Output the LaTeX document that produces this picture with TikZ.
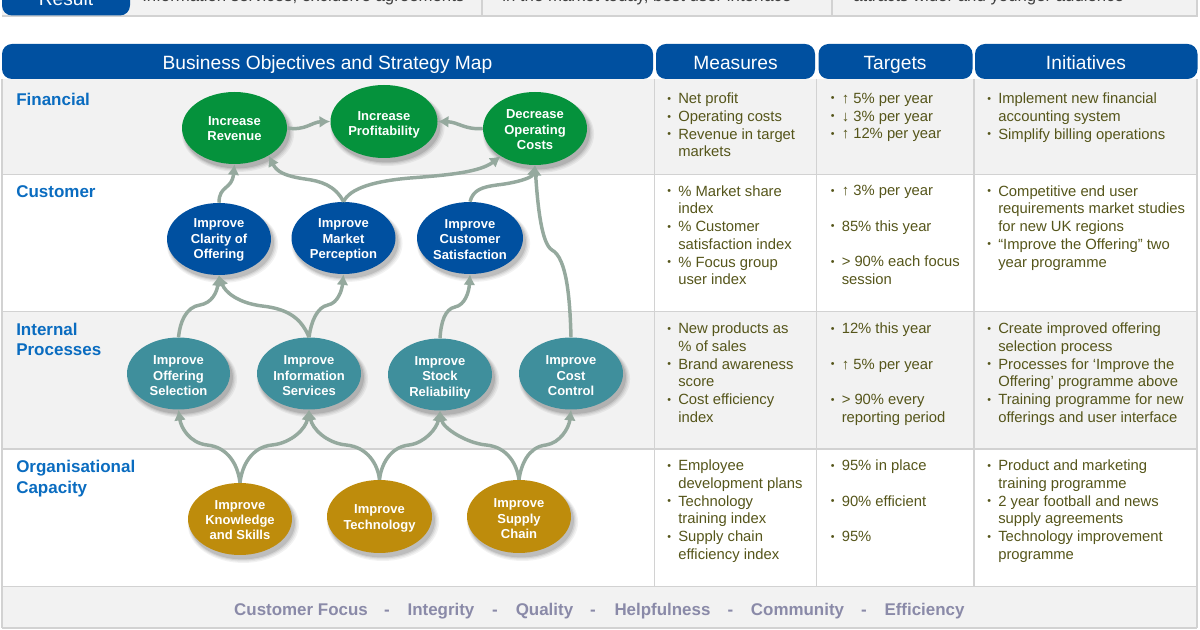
\documentclass[tikz,border=0pt]{standalone}
\usepackage{fontspec}
\setmainfont{Liberation Sans}
\usetikzlibrary{shapes.geometric,arrows.meta,shadows}
\definecolor{hdr}{HTML}{0050A0}
\definecolor{band}{HTML}{F2F2F2}
\definecolor{rule}{HTML}{D2D2D2}
\definecolor{cat}{HTML}{0A6CC0}
\definecolor{body}{HTML}{55551A}
\definecolor{wire}{HTML}{95A99E}
\definecolor{nfin}{HTML}{05923C}
\definecolor{ncus}{HTML}{0050A0}
\definecolor{npro}{HTML}{3F8F9C}
\definecolor{ncap}{HTML}{BE8C0C}
\definecolor{vals}{HTML}{8A8AA8}
\newcommand{\bu}{\makebox[8.25pt][l]{\fontsize{8pt}{8pt}\selectfont\raisebox{1.1pt}{•}}}
\newcommand{\ct}{\makebox[8.25pt]{}}
\newcommand{\up}[1]{\rule{0pt}{#1pt}}
\tikzset{
  rowband/.style={draw=rule,line width=1.1pt},
  divider/.style={draw=rule,line width=1pt},
  head/.style={fill=hdr,rounded corners=7.5pt},
  headtxt/.style={text=white,font=\fontsize{14.4pt}{17pt}\selectfont,anchor=base,inner sep=0pt},
  striptxt/.style={text=black!75,font=\fontsize{12.6pt}{15pt}\selectfont,anchor=base west,inner sep=0pt},
  cattxt/.style={text=cat,font=\fontsize{12.75pt}{15.4pt}\selectfont\bfseries,anchor=north west,align=left,inner sep=0pt},
  celltxt/.style={text=body,font=\fontsize{11.1pt}{13.28pt}\selectfont,anchor=north west,align=left,inner sep=0pt},
  valtxt/.style={text=vals,font=\fontsize{12.7pt}{15pt}\selectfont\bfseries,anchor=base,inner sep=0pt},
  softshadow/.style={
    drop shadow={shadow xshift=2.4pt,shadow yshift=-3.8pt,shadow scale=1.07,opacity=.05,fill=black},
    drop shadow={shadow xshift=2.2pt,shadow yshift=-3.5pt,shadow scale=1.05,opacity=.06,fill=black},
    drop shadow={shadow xshift=2pt,shadow yshift=-3.2pt,shadow scale=1.03,opacity=.08,fill=black},
    drop shadow={shadow xshift=1.8pt,shadow yshift=-3pt,shadow scale=1.01,opacity=.10,fill=black}},
  goal/.style={ellipse,inner sep=0pt,text=white,align=center,softshadow,
    font=\fontsize{9.75pt}{11.6pt}\selectfont\bfseries},
  radii/.style 2 args={minimum width=#1*1.5pt,minimum height=#2*1.5pt},
  link/.style={draw=wire,line width=2.6pt,-{Latex[length=8pt,width=9pt]}}
}
\begin{document}
\begin{tikzpicture}[x=0.75pt,y=-0.75pt]
\useasboundingbox (0,0) rectangle (1200,630);
\clip (0,0) rectangle (1200,630);
% top strip
\path[fill=band] (2,-20) rectangle (1197,16);
\draw[rowband] (1197,-20) -- (1197,16) -- (2,16);
\draw[divider] (482,-20) -- (482,16);
\draw[divider] (832,-20) -- (832,16);
\path[head] (2,-30) rectangle (130,15.5);
\node[headtxt] (result) at (66,6) {Result};
\node[striptxt] (s1) at (142,1.5) {Information services, exclusive agreements};
\node[striptxt] (s2) at (502,1.5) {in the market today, best user interface};
\node[striptxt] (s3) at (853,1.5) {attracts wider and younger audience};
% rows
\path[fill=band] (2,79) rectangle (1197,174.5);
\path[fill=band] (2,311.5) rectangle (1197,449);
\path[fill=band] (2,586.5) rectangle (1197,628);
\draw[rowband] (2,174.5) -- (1197,174.5);
\draw[rowband] (2,311.5) -- (1197,311.5);
\draw[rowband] (2,449) -- (1197,449);
\draw[rowband] (2,586.5) -- (1197,586.5);
\draw[rowband] (2,628) -- (1197,628);
\draw[divider] (2,79) -- (2,628);
\draw[divider] (1197,79) -- (1197,628);
\draw[divider] (654.5,79) -- (654.5,586.5);
\draw[divider] (816.5,79) -- (816.5,586.5);
\draw[divider] (974,79) -- (974,586.5);
% headers
\path[head] (2,44) rectangle (653,79);
\path[head] (656,44) rectangle (815,79);
\path[head] (818.5,44) rectangle (972.5,79);
\path[head] (975,44) rectangle (1197.5,79);
\node[headtxt] (h1) at (327.5,69.5) {Business Objectives and Strategy Map};
\node[headtxt] (h2) at (735.5,69.5) {Measures};
\node[headtxt] (h3) at (895,69.5) {Targets};
\node[headtxt] (h4) at (1086,69.5) {Initiatives};
% categories
\node[cattxt] (c1) at (16,93) {Financial};
\node[cattxt] (c2) at (16,185.5) {Customer};
\node[cattxt] (c3) at (16,322.5) {Internal\\Processes};
\node[cattxt] (c4) at (16,460) {Organisational\\Capacity};
% goals
\node[goal,radii={52.5}{36},fill=nfin] (rev) at (234.5,128) {\up{8}Increase\\Revenue};
\node[goal,radii={53.5}{36.5},fill=nfin] (prof) at (384,121.5) {\up{12}Increase\\Profitability};
\node[goal,radii={52}{36.5},fill=nfin] (dec) at (535,128.5) {\up{9}Decrease\\Operating\\Costs};
\node[goal,radii={52}{36},fill=ncus] (clar) at (219,239) {\up{8.3}Improve\\Clarity of\\Offering};
\node[goal,radii={52}{36},fill=ncus] (mkt) at (343.5,238) {\up{9.8}Improve\\Market\\Perception};
\node[goal,radii={53}{36},fill=ncus] (sat) at (470,238) {\up{9}Improve\\Customer\\Satisfaction};
\node[goal,radii={51.5}{36},fill=npro] (off) at (178.5,373.5) {\up{10.5}Improve\\Offering\\Selection};
\node[goal,radii={52}{36},fill=npro] (info) at (309,373.5) {\up{10.5}Improve\\Information\\Services};
\node[goal,radii={52}{36},fill=npro] (stock) at (440,374.5) {\up{11.3}Improve\\Stock\\Reliability};
\node[goal,radii={52}{36},fill=npro] (cost) at (571,373.5) {\up{10.5}Improve\\Cost\\Control};
\node[goal,radii={52}{36},fill=ncap] (know) at (240,519) {\up{8.3}Improve\\Knowledge\\and Skills};
\node[goal,radii={52.5}{36.5},fill=ncap] (tech) at (379.5,516.5) {\up{9.8}Improve\\Technology};
\node[goal,radii={52}{36.5},fill=ncap] (sup) at (519,516.5) {\up{10.5}Improve\\Supply\\Chain};
% links
\draw[link] (rev.east) .. controls (305,131) and (312,122) .. (prof.west);
\draw[link] (dec.west) .. controls (465,130) and (458,122) .. (prof.east);
\draw[link] (clar.north) .. controls (219,185) and (232,190) .. (rev.south);
\draw[link] (mkt.north) .. controls (335,185) and (320,181) .. (305,179) .. controls (285,176) and (277,172) .. (rev.-39);
\draw[link] (mkt.north) .. controls (350,188) and (375,181) .. (410,178) .. controls (450,175) and (480,172) .. (dec.-141);
\draw[link] (sat.north) .. controls (473,190) and (482,187) .. (497,185) .. controls (515,183) and (532,178) .. (dec.south);
\draw[link] (cost.north) .. controls (570,300) and (567,258) .. (552,250) .. controls (542,244) and (538,210) .. (dec.south);
\draw[link] (off.north) .. controls (180,322) and (186,307) .. (200,305) .. controls (212,303) and (217,292) .. (clar.south);
\draw[link] (info.north) .. controls (302,320) and (290,309) .. (262,306) .. controls (238,303) and (225,292) .. (clar.south);
\draw[link] (info.north) .. controls (311,322) and (317,307) .. (328,305) .. controls (338,303) and (342,290) .. (mkt.south);
\draw[link] (stock.north) .. controls (441,322) and (445,309) .. (455,307) .. controls (465,305) and (469,292) .. (sat.south);
\draw[link] (know.north) .. controls (238,465) and (228,447) .. (207,445) .. controls (190,443) and (181,428) .. (off.south);
\draw[link] (know.north) .. controls (242,465) and (252,447) .. (272,445) .. controls (292,443) and (306,428) .. (info.south);
\draw[link] (tech.north) .. controls (378,465) and (368,447) .. (346,445) .. controls (326,443) and (312,428) .. (info.south);
\draw[link] (tech.north) .. controls (381,465) and (390,447) .. (409,445) .. controls (425,443) and (437,428) .. (stock.south);
\draw[link] (sup.north) .. controls (517,465) and (508,447) .. (486,445) .. controls (466,443) and (443,428) .. (stock.south);
\draw[link] (sup.north) .. controls (521,465) and (528,447) .. (546,445) .. controls (560,443) and (569,428) .. (cost.south);
% cells
\node[celltxt] (m1) at (667,92.8) {\bu Net profit\\\bu Operating costs\\\bu Revenue in target\\\ct markets};
\node[celltxt] (t1) at (830.5,92.8) {\bu ↑ 5\% per year\\\bu ↓ 3\% per year\\\bu ↑ 12\% per year};
\node[celltxt] (i1) at (987,92.8) {\bu Implement new financial\\\ct accounting system\\\bu Simplify billing operations};
\node[celltxt] (m2) at (667,185.3) {\bu \% Market share\\\ct index\\\bu \% Customer\\\ct satisfaction index\\\bu \% Focus group\\\ct user index};
\node[celltxt] (t2) at (830.5,185.3) {\bu ↑ 3\% per year\\\mbox{}\\\bu 85\% this year\\\mbox{}\\\bu > 90\% each focus\\\ct session};
\node[celltxt] (i2) at (987,185.3) {\bu Competitive end user\\\ct requirements market studies\\\ct for new UK regions\\\bu “Improve the Offering” two\\\ct year programme};
\node[celltxt] (m3) at (667,322.8) {\bu New products as\\\ct \% of sales\\\bu Brand awareness\\\ct score\\\bu Cost efficiency\\\ct index};
\node[celltxt] (t3) at (830.5,322.8) {\bu 12\% this year\\\mbox{}\\\bu ↑ 5\% per year\\\mbox{}\\\bu > 90\% every\\\ct reporting period};
\node[celltxt] (i3) at (987,322.8) {\bu Create improved offering\\\ct selection process\\\bu Processes for ‘Improve the\\\ct Offering’ programme above\\\bu Training programme for new\\\ct offerings and user interface};
\node[celltxt] (m4) at (667,459.8) {\bu Employee\\\ct development plans\\\bu Technology\\\ct training index\\\bu Supply chain\\\ct efficiency index};
\node[celltxt] (t4) at (830.5,459.8) {\bu 95\% in place\\\mbox{}\\\bu 90\% efficient\\\mbox{}\\\bu 95\%};
\node[celltxt] (i4) at (987,459.8) {\bu Product and marketing\\\ct training programme\\\bu 2 year football and news\\\ct supply agreements\\\bu Technology improvement\\\ct programme};
% values
\node[valtxt] (v1) at (301,615) {Customer Focus};
\node[valtxt] (d1) at (387,615) {-};
\node[valtxt] (v2) at (441,615) {Integrity};
\node[valtxt] (d2) at (495,615) {-};
\node[valtxt] (v3) at (544.5,615) {Quality};
\node[valtxt] (d3) at (593,615) {-};
\node[valtxt] (v4) at (662.5,615) {Helpfulness};
\node[valtxt] (d4) at (730.5,615) {-};
\node[valtxt] (v5) at (797.5,615) {Community};
\node[valtxt] (d5) at (864,615) {-};
\node[valtxt] (v6) at (924.5,615) {Efficiency};
\end{tikzpicture}
\end{document}
